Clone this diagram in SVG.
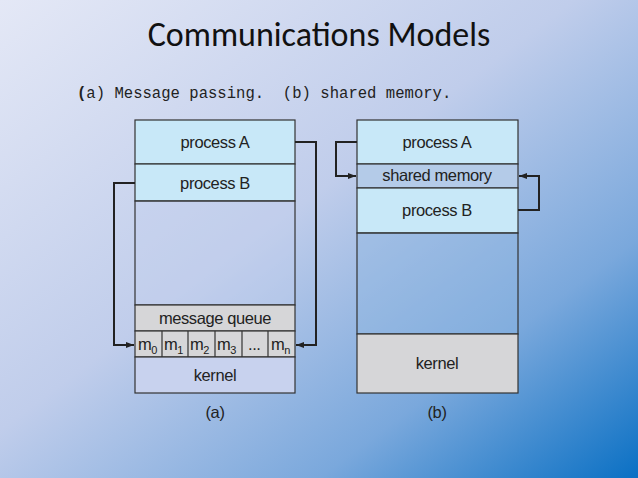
<svg xmlns="http://www.w3.org/2000/svg" width="638" height="478" viewBox="0 0 638 478">
<defs>
<linearGradient id="bg" x1="0" y1="0" x2="1" y2="1">
<stop offset="0" stop-color="#e4e8f6"/>
<stop offset="0.45" stop-color="#c0cdeb"/>
<stop offset="0.75" stop-color="#7aa8dc"/>
<stop offset="1" stop-color="#0a70c4"/>
</linearGradient>
<marker id="ah" markerWidth="8" markerHeight="6" refX="8" refY="3" orient="auto" markerUnits="userSpaceOnUse">
<path d="M0,0 L8,3 L0,6 z" fill="#222"/>
</marker>
<style>
.t{font-family:"Liberation Sans",Arial,sans-serif;font-size:16.5px;fill:#222;text-anchor:middle;letter-spacing:-0.4px}
.b{stroke:#333;stroke-width:1.2}
.p{fill:#c8e8f8}
.g{fill:#d6d6d8}
.c{fill:none;stroke:#222;stroke-width:2}
</style>
</defs>
<rect width="638" height="478" fill="url(#bg)"/>
<text x="319" y="46" font-family="Calibri,'Open Sans','Liberation Sans',sans-serif" font-size="34" fill="#111" text-anchor="middle">Communications Models</text>
<text x="77" y="98" font-family="'Liberation Mono',monospace" font-size="15.6" fill="#222" xml:space="preserve"><tspan font-weight="bold">(</tspan>a) Message passing.  (b) shared memory.</text>
<g id="a">
<rect x="135" y="120" width="160" height="44" class="p b"/>
<text x="215" y="148" class="t">process A</text>
<rect x="135" y="164" width="160" height="37" class="p b"/>
<text x="215" y="189" class="t">process B</text>
<rect x="135" y="201" width="160" height="104" fill="#c4d0ee" class="b" fill-opacity="0.4"/>
<rect x="135" y="305" width="160" height="26" class="g b"/>
<text x="215" y="324" class="t">message queue</text>
<rect x="135" y="331" width="160" height="26" class="g b"/>
<path d="M162,331V357M188,331V357M215,331V357M242,331V357M268,331V357" class="b"/>
<g class="t" style="text-anchor:start">
<text x="138" y="350">m<tspan font-size="11" dy="4">0</tspan></text>
<text x="164" y="350">m<tspan font-size="11" dy="4">1</tspan></text>
<text x="190" y="350">m<tspan font-size="11" dy="4">2</tspan></text>
<text x="217" y="350">m<tspan font-size="11" dy="4">3</tspan></text>
<text x="248" y="350">...</text>
<text x="271" y="350">m<tspan font-size="11" dy="4">n</tspan></text>
</g>
<rect x="135" y="357" width="160" height="36" fill="#c8d2ee" class="b"/>
<text x="215" y="381" class="t">kernel</text>
<text x="215" y="418" class="t">(a)</text>
</g>
<g id="b">
<rect x="357" y="120" width="161" height="44" class="p b"/>
<text x="437" y="148" class="t">process A</text>
<rect x="357" y="164" width="161" height="24" fill="#b4cbe8" class="b"/>
<text x="437" y="181" class="t">shared memory</text>
<rect x="357" y="188" width="161" height="45" class="p b"/>
<text x="437" y="216" class="t">process B</text>
<rect x="357" y="233" width="161" height="101" fill="#8fb6e2" fill-opacity="0.4" class="b"/>
<rect x="357" y="334" width="161" height="59" class="g b"/>
<text x="437" y="369" class="t">kernel</text>
<text x="437" y="418" class="t">(b)</text>
</g>
<g id="connectors">
<path d="M135,183H114V345H134" class="c" marker-end="url(#ah)"/>
<path d="M295,142H316V345H296" class="c" marker-end="url(#ah)"/>
<path d="M357,142H336V176H356" class="c" marker-end="url(#ah)"/>
<path d="M518,210H539V176H519" class="c" marker-end="url(#ah)"/>
</g>
</svg>
